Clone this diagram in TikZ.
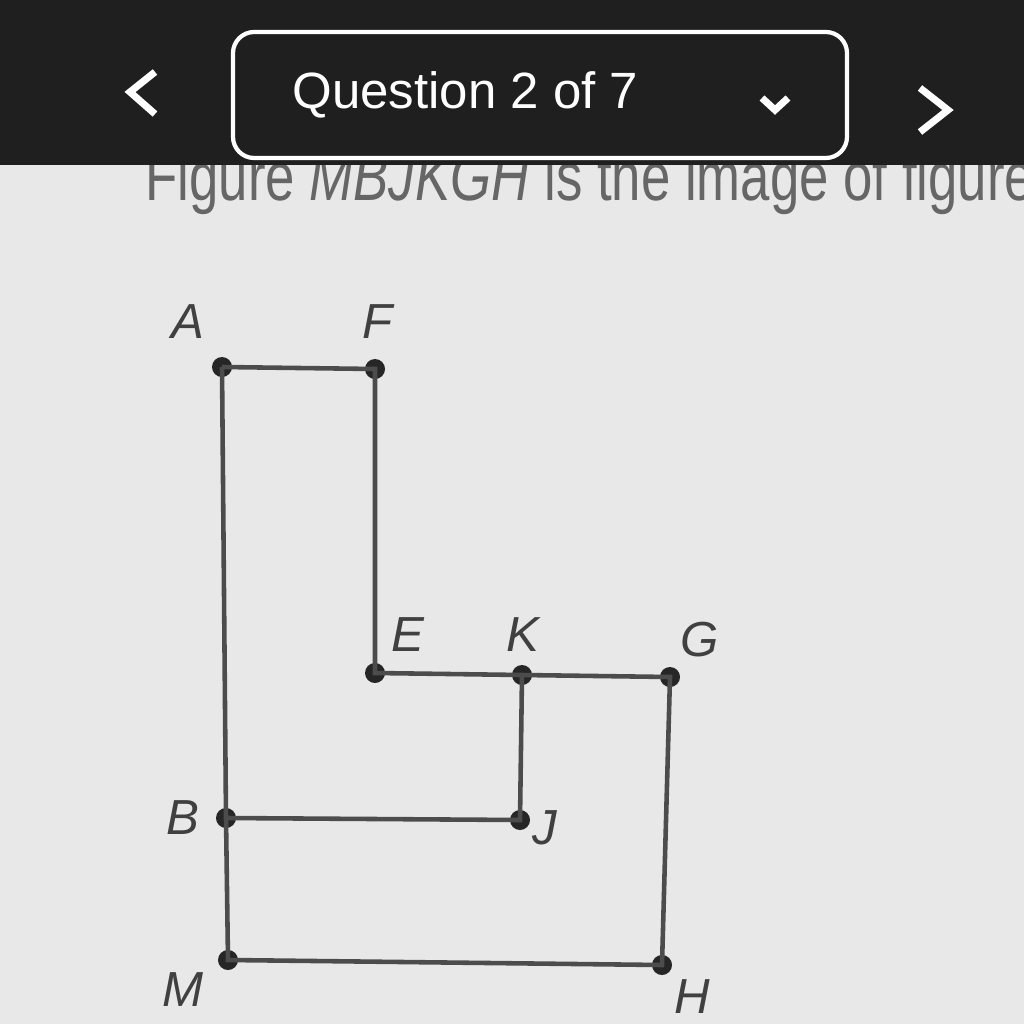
\documentclass[tikz,border=0pt]{standalone}
\usepackage{fontspec}
\setmainfont{Liberation Sans}
\begin{document}
\begin{tikzpicture}[x=0.01cm,y=-0.01cm,
  dotp/.style={circle,fill=black!85,inner sep=0pt,minimum size=0.2cm},
  lbl/.style={font=\fontsize{14}{17}\selectfont\itshape,text=black!75},
  seg/.style={draw=black!70,line width=1.3pt}]
\fill[gray!18] (0,0) rectangle (1024,1024);
\useasboundingbox (0,0) rectangle (1024,1024);
\begin{scope}
\clip (0,165) rectangle (1024,1024);
\node[anchor=base west,font=\fontsize{15}{18}\selectfont,text=black!60,yscale=1.3,inner sep=0pt] (cut) at (145,200) {Figure \textit{MBJKGH} is the image of figure \textit{AFE}};
\end{scope}
\fill[black!88] (0,0) rectangle (1024,165);
\draw[white!85,line width=1.2pt,rounded corners=6pt] (233,32) rectangle (847,158);
\node[font=\fontsize{14.5}{18}\selectfont,text=white!90,anchor=west] (q) at (280,95) {Question 2 of 7};
\draw[white!85,line width=2pt] (155,72) -- (130,92) -- (155,114);
\draw[white!85,line width=2pt] (920,88) -- (948,110) -- (920,132);
\draw[white!85,line width=2pt] (762,98) -- (775,110) -- (788,98);
\node[dotp] (A) at (222,367) {};
\node[dotp] (F) at (375,369) {};
\node[dotp] (E) at (375,673) {};
\node[dotp] (K) at (522,675) {};
\node[dotp] (G) at (670,677) {};
\node[dotp] (J) at (520,820) {};
\node[dotp] (B) at (226,818) {};
\node[dotp] (M) at (228,960) {};
\node[dotp] (H) at (662,965) {};
\draw[seg] (A.center)--(F.center)--(E.center)--(K.center)--(G.center)--(H.center)--(M.center)--(B.center)--(A.center);
\draw[seg] (K.center)--(J.center)--(B.center);
\node[lbl] (lA) at (188,322) {A};
\node[lbl] (lF) at (378,322) {F};
\node[lbl] (lE) at (408,635) {E};
\node[lbl] (lK) at (523,635) {K};
\node[lbl] (lG) at (700,640) {G};
\node[lbl] (lB) at (183,818) {B};
\node[lbl] (lJ) at (545,828) {J};
\node[lbl] (lM) at (183,990) {M};
\node[lbl] (lH) at (692,997) {H};
\end{tikzpicture}
\end{document}
